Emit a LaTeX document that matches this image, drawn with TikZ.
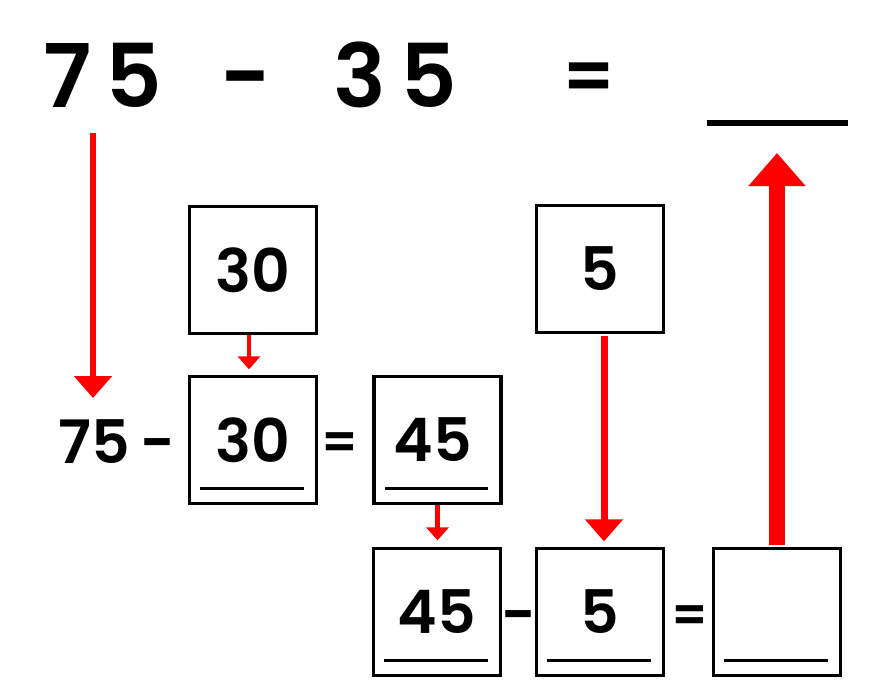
\documentclass[tikz,border=0pt]{standalone}
\usepackage{fontspec}
\setmainfont{Poppins}[BoldFont=* SemiBold]
\usetikzlibrary{arrows.meta}
\tikzset{
  box/.style={draw=black, line width=3.3pt, minimum width=127pt, minimum height=127pt, inner sep=0pt, font=\bigdig},
  dig/.style={inner sep=0pt, anchor=base, font=\bigdig},
  eqsign/.style={inner sep=0pt, anchor=base, font=\fontsize{50}{54}\selectfont\bfseries},
  topdig/.style={inner sep=0pt, anchor=base, font=\topdig},
  topeqsign/.style={inner sep=0pt, anchor=base, font=\fontsize{72}{76}\selectfont\bfseries},
  uline/.style={line width=3.5pt, black},
  redthin/.style={draw=red, line width=4.5pt, -{Triangle[width=22pt,length=13pt]}},
  redmid/.style={draw=red, line width=7pt, -{Triangle[width=37pt,length=22pt]}},
  redbig/.style={draw=red, line width=16pt, -{Triangle[width=55pt,length=33pt]}},
}
\newcommand{\bigdig}{\fontsize{60}{64}\selectfont\bfseries}
\newcommand{\topdig}{\fontsize{88}{92}\selectfont\bfseries}
\begin{document}
\begin{tikzpicture}[x=1pt,y=-1pt]
\useasboundingbox (0,0) rectangle (878,699);
% top equation
\node[topdig] (top75) at (103,107) {7\kern14pt5};
\node[topdig] (topminus) at (246,107) {-};
\node[topdig] (top35) at (395,107) {3\kern14pt5};
\node[topeqsign] (topeq) at (589,101) {=};
\coordinate (ansL) at (707,123);
\coordinate (ansR) at (848,123);
\draw[line width=6pt] (ansL) -- (ansR);
% arrows
\coordinate (a1s) at (93,133);
\coordinate (a1e) at (93,398);
\draw[redmid, line width=6pt] (a1s) -- (a1e);
% boxes
\node[box] (t30) at (253,270) {30};
\node[box] (t5) at (600,269) {5};
\node[dig] (r75) at (94,463) {75};
\node[dig] (rminus) at (158,463) {-};
\node[box] (r30) at (253,440) {30};
\node[eqsign] (req) at (340,459.5) {=};
\node[box] (r45) at (437.5,440) {\kern-10pt45};
\node[box] (b45) at (437,612) {45};
\node[dig] (bminus) at (519,635) {-};
\node[box] (b5) at (600,612) {5};
\node[eqsign] (beq) at (690,632.5) {=};
\node[box] (bans) at (777,612) {};
% underlines
\foreach \n in {r30,r45,b45,b5,bans}{
  \draw[uline] ([xshift=12.5pt,yshift=16.5pt]\n.south west) -- ([xshift=-14.5pt,yshift=16.5pt]\n.south east);
}
% connectors
\draw[redthin, shorten >=5.5pt] ([xshift=-4pt]t30.south) -- ([xshift=-4pt]r30.north);
\draw[redthin, shorten >=6.5pt] (r45.south) -- (r45.south |- b45.north);
\draw[redmid, shorten >=5.5pt, shorten <=1.5pt] ([xshift=4pt]t5.south) -- ([xshift=4pt]b5.north);
\coordinate (upend) at (777,153);
\draw[redbig, shorten <=1.5pt] (bans.north) -- (upend);
\end{tikzpicture}
\end{document}
